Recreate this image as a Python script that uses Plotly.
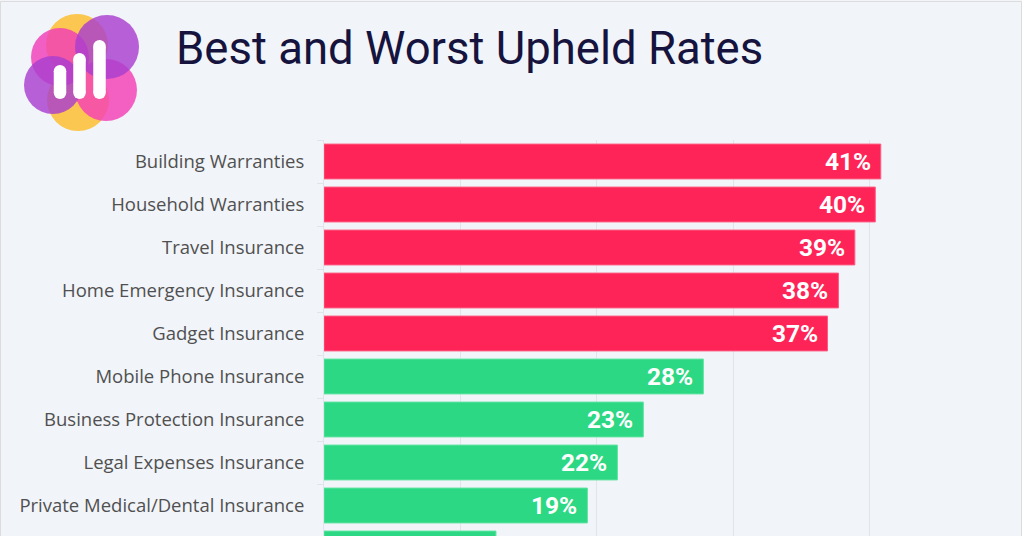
import plotly.graph_objects as go

# ---- data ----
categories = [
    "Building Warranties",
    "Household Warranties",
    "Travel Insurance",
    "Home Emergency Insurance",
    "Gadget Insurance",
    "Mobile Phone Insurance",
    "Business Protection Insurance",
    "Legal Expenses Insurance",
    "Private Medical/Dental Insurance",
    "Other Insurance",
]
upheld_rate = [40.8, 40.4, 38.9, 37.7, 36.9, 27.8, 23.4, 21.5, 19.3, 12.6]
rate_labels = ["41%", "40%", "39%", "38%", "37%", "28%", "23%", "22%", "19%", "13%"]
group = ["worst"] * 5 + ["best"] * 5
title_text = "Best and Worst Upheld Rates"

# ---- style ----
W, H = 1024, 536
ML, MR, MT, MB = 324, 45, 140, 0
BG = "#F1F4F9"
RED = "#FF2458"
GREEN = "#2CD883"
GRID = "#E1E4EA"
color_map = {"worst": RED, "best": GREEN}
line_map = {"worst": "#FF5A80", "best": "#5CE3A0"}

PW = W - ML - MR
PH = H - MT - MB


def px(x):
    return (x - ML) / PW


def py(y):
    return (H - MB - y) / PH


fig = go.Figure()
fig.add_trace(go.Bar(
    x=upheld_rate,
    y=categories,
    orientation="h",
    width=0.81,
    marker=dict(color=[color_map[g] for g in group],
                line=dict(color=[line_map[g] for g in group], width=1)),
    hoverinfo="skip",
))

annotations = []
for c, v, lab in zip(categories, upheld_rate, rate_labels):
    annotations.append(dict(
        x=v, y=c, xref="x", yref="y", text=lab, showarrow=False,
        xanchor="right", yanchor="middle", xshift=-8,
        font=dict(family="Roboto", size=24.5, color="white", weight="bold"),
    ))

annotations.append(dict(
    x=px(174), y=py(48), xref="paper", yref="paper", text=title_text,
    showarrow=False, xanchor="left", yanchor="middle",
    font=dict(family="Roboto", size=45.5, color="#16143E"),
))

shapes = []
# logo circles
circles = [
    (77, 45, 31, "#FDBD2B"),   # yellow top
    (78, 100, 31, "#FDBD2B"),  # yellow bottom
    (60, 57, 29, "#F03DB8"),   # pink top-left
    (106, 90, 31, "#F43FB6"),  # pink bottom-right
    (107, 47, 32, "#A93ECF"),  # purple top-right
    (53, 85, 29, "#A93ECF"),   # purple bottom-left
]
for cx, cy, r, col in circles:
    shapes.append(dict(
        type="circle", xref="paper", yref="paper",
        x0=px(cx - r), x1=px(cx + r), y0=py(cy + r), y1=py(cy - r),
        fillcolor=col, opacity=0.82, line=dict(width=0), layer="above",
    ))
# logo white pills
pills = [(60, 65, 99), (79.5, 53, 99), (99.5, 40, 99)]
pw = 12.5
for cx, top, bot in pills:
    rr = pw / 2
    shapes.append(dict(
        type="rect", xref="paper", yref="paper",
        x0=px(cx - rr), x1=px(cx + rr), y0=py(bot - rr), y1=py(top + rr),
        fillcolor="white", line=dict(width=0), layer="above",
    ))
    for yy in (top + rr, bot - rr):
        shapes.append(dict(
            type="circle", xref="paper", yref="paper",
            x0=px(cx - rr), x1=px(cx + rr), y0=py(yy + rr), y1=py(yy - rr),
            fillcolor="white", line=dict(width=0), layer="above",
        ))
# outer frame
shapes.append(dict(
    type="rect", xref="paper", yref="paper",
    x0=px(1022), x1=px(1030), y0=py(540), y1=py(-5),
    fillcolor="white", line=dict(width=0), layer="above",
))
shapes.append(dict(
    type="rect", xref="paper", yref="paper",
    x0=px(0.5), x1=px(1021.5), y0=py(545), y1=py(1.5),
    fillcolor="rgba(0,0,0,0)", line=dict(color="#DCDCDC", width=1), layer="above",
))

fig.update_layout(
    width=W, height=H,
    margin=dict(l=ML, r=MR, t=MT, b=MB, pad=0),
    paper_bgcolor=BG, plot_bgcolor=BG,
    showlegend=False,
    annotations=annotations,
    shapes=shapes,
    xaxis=dict(range=[0, 48], dtick=10, showgrid=True, gridcolor=GRID, gridwidth=1,
               showticklabels=False, zeroline=False, showline=False, fixedrange=True),
    yaxis=dict(range=[PH / 43 - 0.5, -0.5], showgrid=False, zeroline=False,
               showline=True, linecolor=GRID, linewidth=1,
               ticks="outside", ticklen=6, tickcolor=GRID, tickson="boundaries",
               ticklabelstandoff=15,
               tickfont=dict(family="Open Sans", size=18.5, color="#505050"),
               fixedrange=True),
)

fig.write_html("out.html", config={"displayModeBar": False})
